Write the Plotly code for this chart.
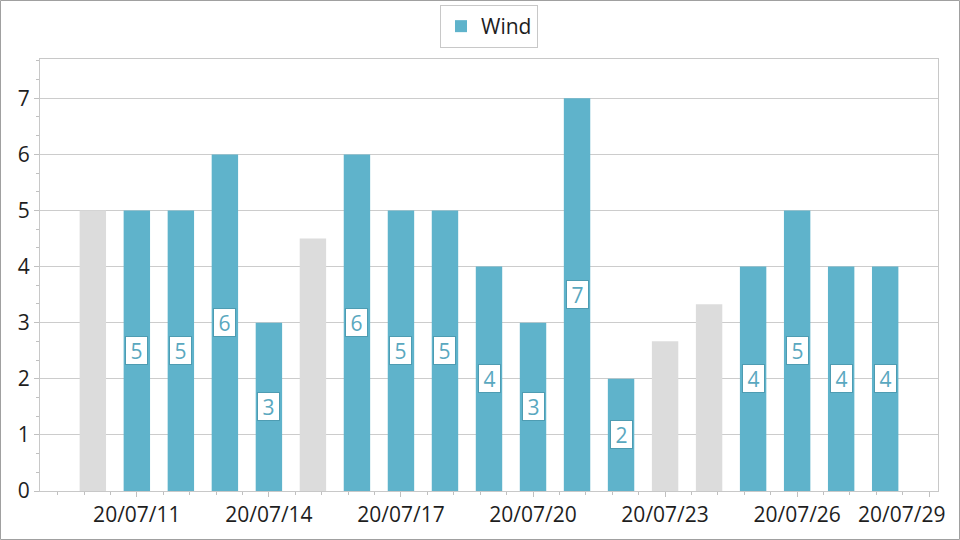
import plotly.graph_objects as go

dates = ["2020-07-10", "2020-07-11", "2020-07-12", "2020-07-13", "2020-07-14",
         "2020-07-15", "2020-07-16", "2020-07-17", "2020-07-18", "2020-07-19",
         "2020-07-20", "2020-07-21", "2020-07-22", "2020-07-23", "2020-07-24",
         "2020-07-25", "2020-07-26", "2020-07-27", "2020-07-28"]
wind = [None, 5, 5, 6, 3, None, 6, 5, 5, 4, 3, 7, 2, None, None, 4, 5, 4, 4]
empty_fill = [5, None, None, None, None, 4.5, None, None, None, None,
              None, None, None, 2.67, 3.33, None, None, None, None]
tick_vals = ["2020-07-11", "2020-07-14", "2020-07-17", "2020-07-20",
             "2020-07-23", "2020-07-26", "2020-07-29"]
tick_text = ["20/07/11", "20/07/14", "20/07/17", "20/07/20",
             "20/07/23", "20/07/26", "20/07/29"]

BLUE = "#5FB3CB"
GRAY = "#DCDCDC"
FONT = "Open Sans"
TXT = "#1E1E1E"
DAY_MS = 86400000

fig = go.Figure()
fig.add_trace(go.Bar(x=dates, y=empty_fill, marker=dict(color=GRAY, line=dict(width=0)),
                     width=0.6 * DAY_MS, showlegend=False, hoverinfo="skip"))
fig.add_trace(go.Bar(x=dates, y=wind, name="Wind",
                     marker=dict(color=BLUE, line=dict(width=0)),
                     width=0.6 * DAY_MS))

annotations = []
for d, v in zip(dates, wind):
    if v is None:
        continue
    annotations.append(dict(x=d, y=v / 2, xref="x", yref="y", text=str(v),
                            showarrow=False, font=dict(family=FONT, size=21, color="#5AA8BF"),
                            width=21, height=27,
                            bgcolor="white", bordercolor="#4E9CB2", borderwidth=1, borderpad=0))

# the last tick label is drawn shifted left so it stays inside the canvas, as in the original
annotations.append(dict(x=tick_vals[-1], xref="x", y=0, yref="paper", yanchor="top",
                        text=tick_text[-1], showarrow=False, xshift=-28, yshift=-7,
                        font=dict(family=FONT, size=21, color=TXT)))
tick_text_disp = tick_text[:-1] + [""]

fig.update_layout(
    template="none",
    width=960, height=540,
    margin=dict(l=40, r=22, t=59, b=49, autoexpand=False),
    paper_bgcolor="white", plot_bgcolor="white",
    font=dict(family=FONT, size=21, color=TXT),
    barmode="overlay",
    showlegend=True,
    legend=dict(orientation="h", x=0.5, xanchor="center", y=1 + 11 / 432, yanchor="bottom",
                bordercolor="#C8C8C8", borderwidth=1, bgcolor="white",
                font=dict(family=FONT, size=21, color=TXT)),
    annotations=annotations,
    xaxis=dict(type="date", range=["2020-07-08 19:12", "2020-07-29 04:48"],
               automargin=False,
               tickmode="array", tickvals=tick_vals, ticktext=tick_text_disp,
               ticks="outside", ticklen=5, tickcolor="#C0C0C0",
               showline=True, linecolor="#C8C8C8", mirror=True, showgrid=False,
               zeroline=False,
               minor=dict(ticks="outside", ticklen=3, tickcolor="#C0C0C0",
                          dtick=0.6 * DAY_MS, tick0="2020-07-11", showgrid=False),
               tickfont=dict(family=FONT, size=21, color=TXT)),
    yaxis=dict(range=[0, 7.7], dtick=1, tick0=0, ticks="outside", ticklen=5,
               automargin=False,
               tickcolor="#C0C0C0", showline=True, linecolor="#C8C8C8", mirror=True,
               showgrid=True, gridcolor="#CCCCCC", zeroline=False,
               minor=dict(ticks="outside", ticklen=3, tickcolor="#C0C0C0",
                          dtick=1 / 3, showgrid=False),
               tickfont=dict(family=FONT, size=21, color=TXT)),
    shapes=[dict(type="rect", xref="paper", yref="paper",
                 x0=-39.5 / 898, x1=1 + 21.5 / 898, y0=-48.5 / 432, y1=1 + 58.5 / 432,
                 line=dict(color="#A0A0A0", width=1), fillcolor="rgba(0,0,0,0)",
                 layer="above")],
)

fig.write_html("out.html", config={"displayModeBar": False},
               post_script="document.body.style.margin='0px';document.body.style.overflow='hidden';")
